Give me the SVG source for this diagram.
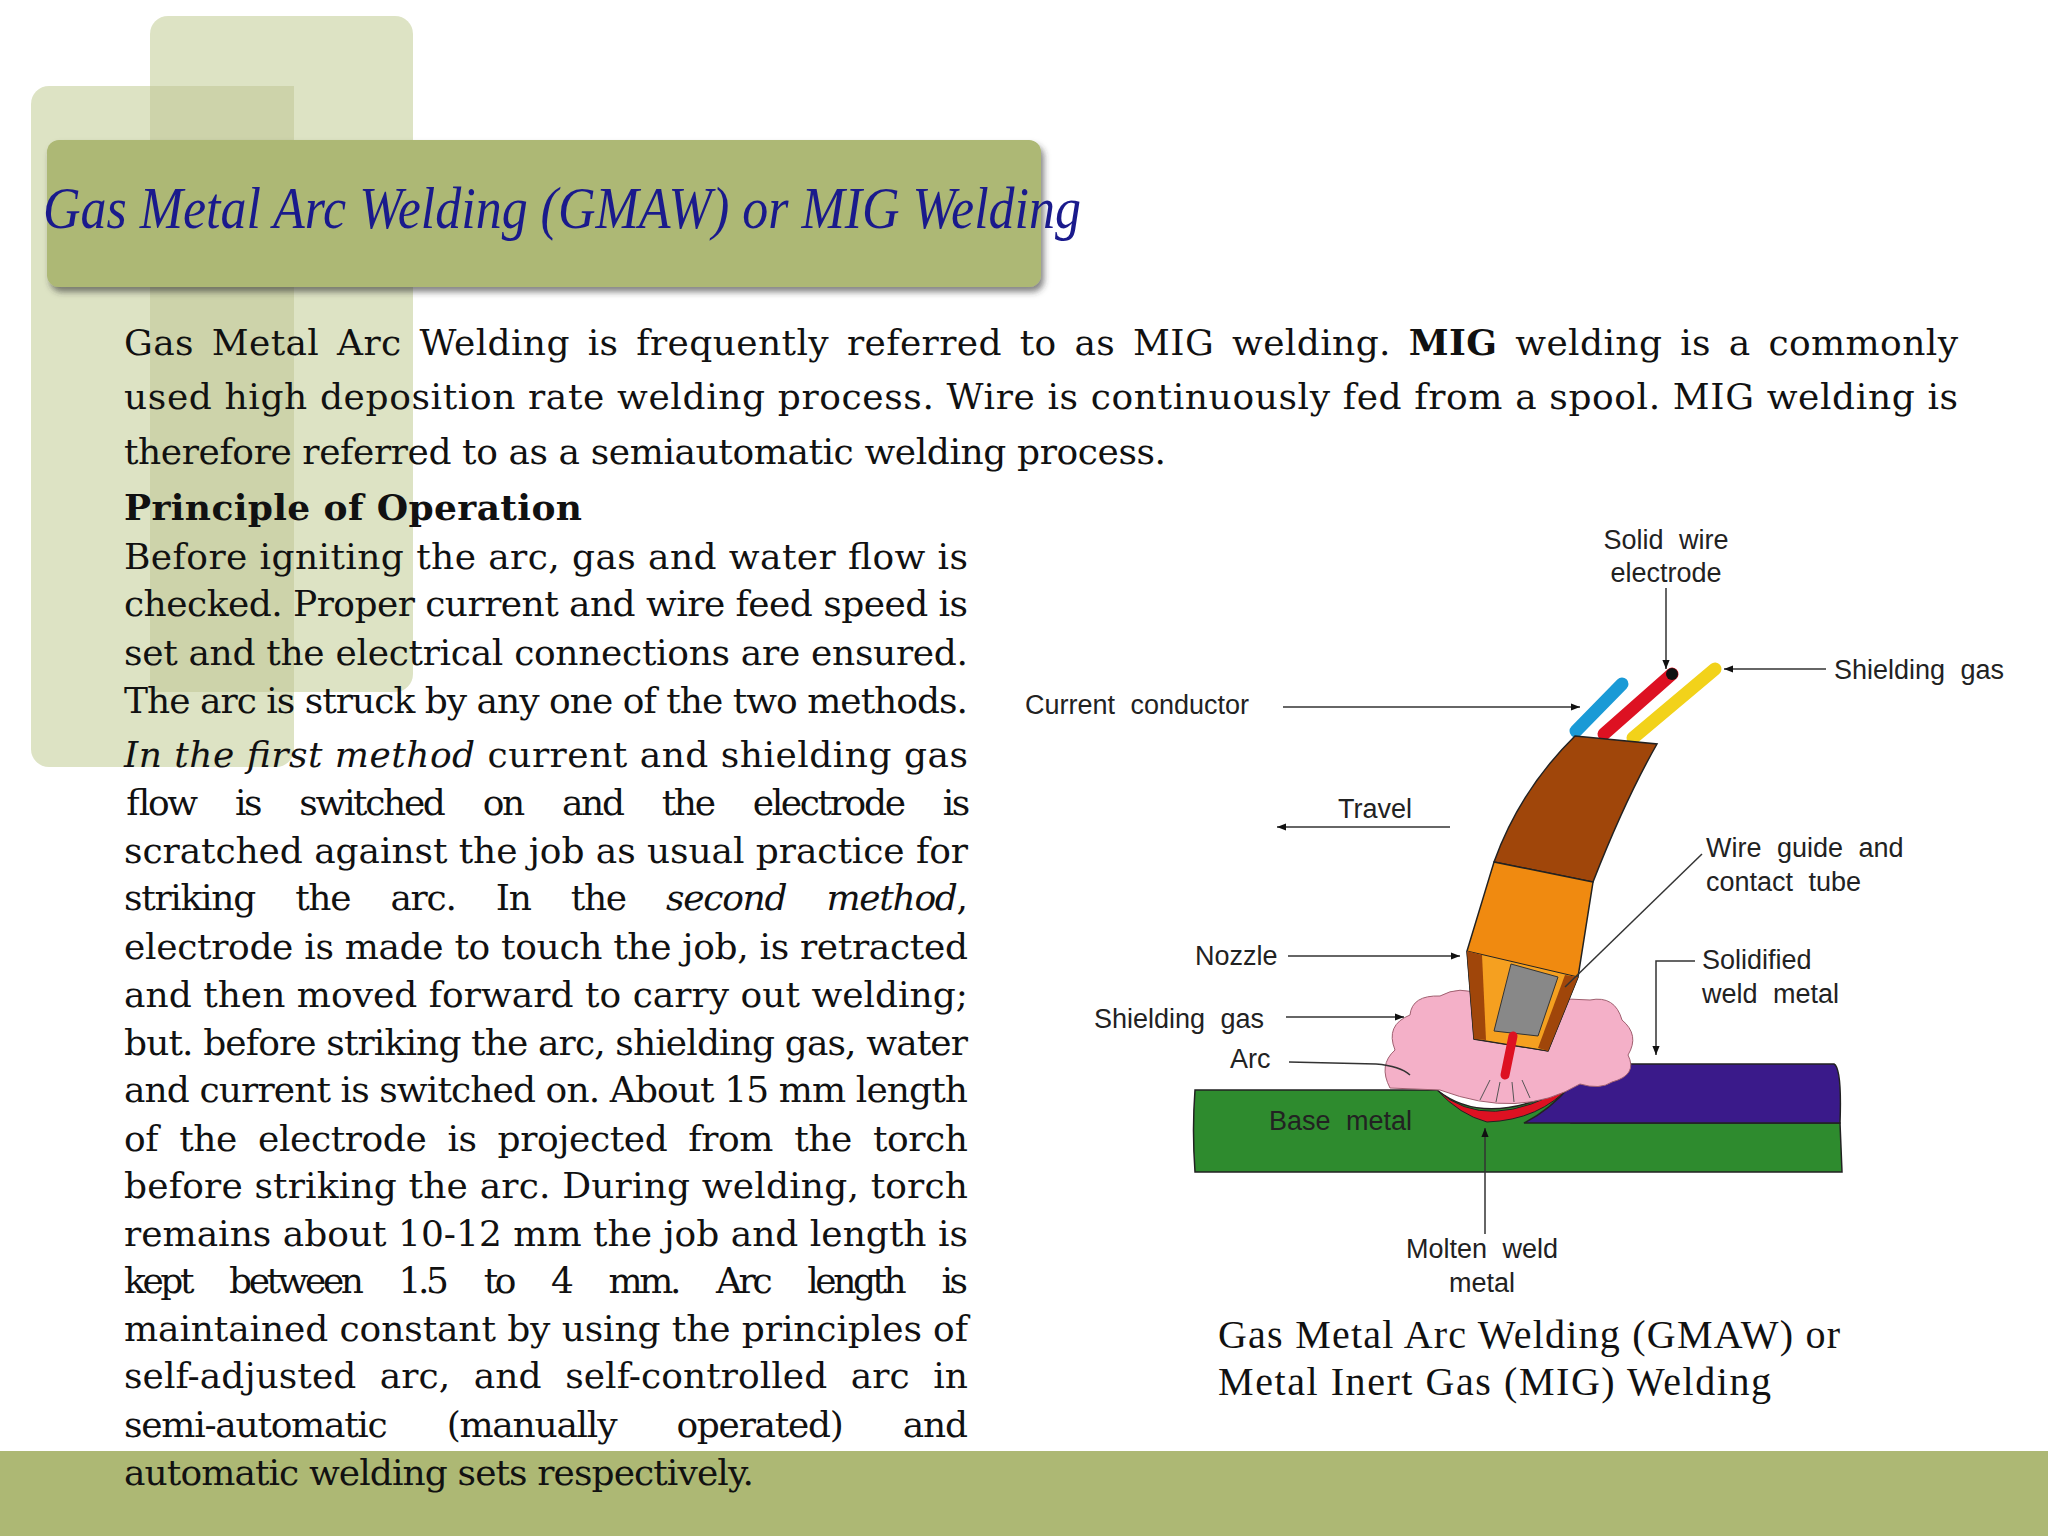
<svg xmlns="http://www.w3.org/2000/svg" width="2048" height="1536" viewBox="0 0 2048 1536">
<defs>
<style>
.b{font-family:"DejaVu Serif","Liberation Serif",serif;font-size:36px;fill:#111}
.l{font-family:"Liberation Sans","DejaVu Sans",sans-serif;font-size:27px;fill:#222;word-spacing:8px}
.ln{stroke:#333;stroke-width:1.5;fill:none}
.cap{font-family:"Liberation Serif",serif;font-size:40px;fill:#111}
</style>
<marker id="ah" viewBox="0 0 10 10" refX="10" refY="5" markerWidth="9" markerHeight="9" orient="auto-start-reverse" markerUnits="userSpaceOnUse"><path d="M0,1 L10,5 L0,9 z" fill="#111"/></marker>
<filter id="sh" x="-5%" y="-10%" width="110%" height="130%"><feDropShadow dx="3" dy="5" stdDeviation="3" flood-color="#333" flood-opacity="0.6"/></filter>
</defs>
<rect width="2048" height="1536" fill="#fff"/>
<g id="background">
<rect x="31" y="86" width="263" height="681" rx="18" fill="#dde3c4"/>
<rect x="150" y="16" width="263" height="676" rx="18" fill="#dde3c4"/>
<rect x="150" y="86" width="144" height="606" fill="#cdd3aa"/>
<rect x="0" y="1451" width="2048" height="85" fill="#adb874"/>
</g>
<g id="title">
<rect x="47" y="140" width="994" height="147" rx="12" fill="#adb874" filter="url(#sh)"/>
<text x="43" y="228" font-family="Liberation Serif,serif" font-style="italic" font-size="60" fill="#1a1a8c" textLength="1038" lengthAdjust="spacingAndGlyphs">Gas Metal Arc Welding (GMAW) or MIG Welding</text>
</g>
<g id="intro">
<text class="b" x="124" y="355" textLength="1834" lengthAdjust="spacing" word-spacing="6">Gas Metal Arc Welding is frequently referred to as MIG welding.  <tspan font-weight="bold">MIG</tspan> welding is a commonly</text>
<text class="b" x="124" y="409" textLength="1834" lengthAdjust="spacing">used high deposition rate welding process.  Wire is continuously fed from a spool.  MIG welding is</text>
<text class="b" x="124" y="464" textLength="1042" lengthAdjust="spacing">therefore referred to as a semiautomatic welding process.</text>
</g>
<g id="principle">
<text class="b" x="124" y="520" font-weight="bold" textLength="458" lengthAdjust="spacing">Principle of Operation</text>
<text class="b" x="124" y="569" textLength="844" lengthAdjust="spacing">Before igniting the arc, gas and water flow is</text>
<text class="b" x="124" y="616" textLength="844" lengthAdjust="spacing">checked. Proper current and wire feed speed is</text>
<text class="b" x="124" y="665" textLength="844" lengthAdjust="spacing">set and the electrical connections are ensured.</text>
<text class="b" x="124" y="713" textLength="844" lengthAdjust="spacing">The arc is struck by any one of the two methods.</text>
<text class="b" x="124" y="767" textLength="844" lengthAdjust="spacing"><tspan font-style="italic">In the first method</tspan> current and shielding gas</text>
<text class="b" x="124" y="815" textLength="844" lengthAdjust="spacing" word-spacing="30">flow is switched on and the electrode is</text>
<text class="b" x="124" y="863" textLength="844" lengthAdjust="spacing">scratched against the job as usual practice for</text>
<text class="b" x="124" y="910" textLength="844" lengthAdjust="spacing" word-spacing="30">striking the arc. In the <tspan font-style="italic">second method</tspan>,</text>
<text class="b" x="124" y="959" textLength="844" lengthAdjust="spacing">electrode is made to touch the job, is retracted</text>
<text class="b" x="124" y="1007" textLength="844" lengthAdjust="spacing">and then moved forward to carry out welding;</text>
<text class="b" x="124" y="1055" textLength="844" lengthAdjust="spacing">but. before striking the arc, shielding gas, water</text>
<text class="b" x="124" y="1102" textLength="844" lengthAdjust="spacing">and current is switched on. About 15 mm length</text>
<text class="b" x="124" y="1151" textLength="844" lengthAdjust="spacing" word-spacing="10">of the electrode is projected from the torch</text>
<text class="b" x="124" y="1198" textLength="844" lengthAdjust="spacing">before striking the arc. During welding, torch</text>
<text class="b" x="124" y="1246" textLength="844" lengthAdjust="spacing">remains about 10-12 mm the job and length is</text>
<text class="b" x="124" y="1293" textLength="844" lengthAdjust="spacing" word-spacing="30">kept between 1.5 to 4 mm. Arc length is</text>
<text class="b" x="124" y="1341" textLength="844" lengthAdjust="spacing">maintained constant by using the principles of</text>
<text class="b" x="124" y="1388" textLength="844" lengthAdjust="spacing" word-spacing="12">self-adjusted arc, and self-controlled arc in</text>
<text class="b" x="124" y="1437" textLength="844" lengthAdjust="spacing" word-spacing="50">semi-automatic (manually operated) and</text>
<text class="b" x="124" y="1485" textLength="630" lengthAdjust="spacing">automatic welding sets respectively.</text>
</g>
<g id="figure">
<path d="M1195,1090 L1437,1090 Q1487,1130 1571,1085 L1571,1123 L1840,1123 L1842,1172 L1195,1172 Q1192,1130 1195,1090 z" fill="#2e8b2e" stroke="#222" stroke-width="1.5"/>
<path d="M1571,1085 Q1585,1066 1610,1064 L1834,1064 Q1842,1068 1840,1123 L1524,1123 Q1550,1110 1571,1085 z" fill="#3a1a8a" stroke="#222" stroke-width="1.5"/>
<path d="M1437,1090 Q1487,1135 1571,1085 Q1540,1120 1487,1122 Q1460,1115 1437,1090 z" fill="#dd1122" stroke="#222" stroke-width="1"/>
<path d="M1390,1088 Q1378,1065 1395,1050 Q1385,1025 1410,1015 Q1412,995 1440,996 Q1460,985 1480,995 L1590,1000 Q1615,995 1622,1020 Q1640,1035 1628,1055 Q1638,1075 1612,1082 Q1600,1090 1580,1084 Q1520,1120 1440,1090 z" fill="#f4b0c8" stroke="#a06070" stroke-width="1"/>
<path d="M1576,731 L1622,684" stroke="#1a9ad6" stroke-width="13" stroke-linecap="round"/>
<path d="M1604,734 L1672,674" stroke="#dd1122" stroke-width="13" stroke-linecap="round"/>
<circle cx="1672" cy="674" r="6" fill="#111"/>
<path d="M1633,738 L1715,669" stroke="#f2d21a" stroke-width="13" stroke-linecap="round"/>
<path d="M1575,736 L1657,744 Q1625,800 1593,882 L1494,862 Q1520,790 1575,736 z" fill="#a0460a" stroke="#222" stroke-width="1.5"/>
<path d="M1494,862 L1593,882 L1578,977 L1548,1051 L1474,1039 L1467,951 z" fill="#f08a10" stroke="#222" stroke-width="1.5"/>
<path d="M1467,951 L1578,977 L1548,1051 L1474,1039 z" fill="#f5a020" stroke="#222" stroke-width="1"/>
<path d="M1467,951 L1482,955 L1486,1040 L1474,1039 z" fill="#a0460a"/>
<path d="M1578,977 L1565,975 L1538,1048 L1548,1051 z" fill="#a0460a"/>
<path d="M1511,964 L1558,977 L1538,1036 L1494,1031 z" fill="#888" stroke="#333" stroke-width="1"/>
<path d="M1513,1036 L1505,1075" stroke="#dd1122" stroke-width="9" stroke-linecap="round"/>
<path d="M1490,1080 L1480,1100 M1500,1082 L1496,1102 M1512,1082 L1514,1102 M1522,1080 L1530,1098" stroke="#555" stroke-width="1"/>
</g>
<g id="connectors">
<path class="ln" d="M1666,588 L1666,669" marker-end="url(#ah)"/>
<path class="ln" d="M1826,669 L1724,669" marker-end="url(#ah)"/>
<path class="ln" d="M1283,707 L1580,707" marker-end="url(#ah)"/>
<path class="ln" d="M1450,827 L1277,827" marker-end="url(#ah)"/>
<path class="ln" d="M1702,854 L1565,987"/>
<path class="ln" d="M1288,956 L1460,956" marker-end="url(#ah)"/>
<path class="ln" d="M1286,1017 L1404,1017" marker-end="url(#ah)"/>
<path class="ln" d="M1289,1062 L1376,1064 Q1400,1066 1410,1075"/>
<path class="ln" d="M1695,961 L1656,961 L1656,1055" marker-end="url(#ah)"/>
<path class="ln" d="M1485,1234 L1485,1128" marker-end="url(#ah)"/>
</g>
<g id="labels">
<text class="l" x="1666" y="549" text-anchor="middle">Solid wire</text>
<text class="l" x="1666" y="582" text-anchor="middle">electrode</text>
<text class="l" x="1834" y="679">Shielding gas</text>
<text class="l" x="1025" y="714">Current conductor</text>
<text class="l" x="1338" y="818">Travel</text>
<text class="l" x="1706" y="857">Wire guide and</text>
<text class="l" x="1706" y="891">contact tube</text>
<text class="l" x="1195" y="965">Nozzle</text>
<text class="l" x="1702" y="969">Solidified</text>
<text class="l" x="1702" y="1003">weld metal</text>
<text class="l" x="1094" y="1028">Shielding gas</text>
<text class="l" x="1230" y="1068">Arc</text>
<text class="l" x="1269" y="1130" fill="#1a4a1a">Base metal</text>
<text class="l" x="1482" y="1258" text-anchor="middle">Molten weld</text>
<text class="l" x="1482" y="1292" text-anchor="middle">metal</text>
<text class="cap" x="1218" y="1348" textLength="622" lengthAdjust="spacing">Gas Metal Arc Welding (GMAW) or</text>
<text class="cap" x="1218" y="1395" textLength="553" lengthAdjust="spacing">Metal Inert Gas (MIG) Welding</text>
</g>
</svg>
